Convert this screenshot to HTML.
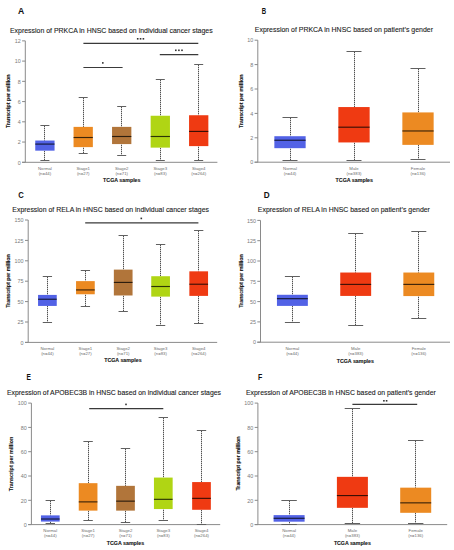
<!DOCTYPE html>
<html><head><meta charset="utf-8"><title>Expression box plots</title>
<style>
html,body{margin:0;padding:0;background:#fff;}
body{width:454px;height:550px;overflow:hidden;}
svg{display:block;}
text{font-family:"Liberation Sans",sans-serif;}
.let{font-size:100px;font-weight:bold;fill:#111;}
.tit{font-size:7.8px;fill:#1c1c1c;stroke:#1c1c1c;stroke-width:0.12px;}
.tick{font-size:5.4px;fill:#7a7a7a;text-anchor:end;}
.ylab{font-size:6px;font-weight:bold;fill:#111;stroke:#111;stroke-width:0.1px;text-anchor:middle;}
.xlab{font-size:5.9px;font-weight:bold;fill:#111;stroke:#111;stroke-width:0.1px;}
.xt{font-size:4.3px;fill:#6c6c6c;text-anchor:middle;}
.dot{fill:#333;}
.axis{stroke:#8a8a8a;stroke-width:1;fill:none;}
.whb{stroke:#c4c4c4;stroke-width:1;fill:none;}
.wh{stroke:#505050;stroke-width:1;stroke-dasharray:1 1;fill:none;}
.cap{stroke:#606060;stroke-width:1;fill:none;}
.med{stroke:#000;stroke-opacity:0.75;stroke-width:1.15;fill:none;}
.sig{stroke:#3a3a3a;stroke-width:1.2;fill:none;}
</style></head>
<body>
<svg width="454" height="550" viewBox="0 0 454 550">
<rect width="454" height="550" fill="#fff"/>
<text transform="translate(17.941 13.688) scale(0.08636 0.08824)" class="let">A</text>
<text x="10" y="32.5" class="tit" textLength="202.6" lengthAdjust="spacingAndGlyphs">Expression of PRKCA in HNSC based on individual cancer stages</text>
<path d="M25.3 40.86V162.3 M22.1 162.3H217.4" class="axis"/>
<path d="M22.1 162.3H25.3" class="axis"/>
<text x="20.7" y="164.5" class="tick">0</text>
<path d="M22.1 142.06H25.3" class="axis"/>
<text x="20.7" y="144.26" class="tick">2</text>
<path d="M22.1 121.82H25.3" class="axis"/>
<text x="20.7" y="124.02" class="tick">4</text>
<path d="M22.1 101.58H25.3" class="axis"/>
<text x="20.7" y="103.78" class="tick">6</text>
<path d="M22.1 81.34H25.3" class="axis"/>
<text x="20.7" y="83.54" class="tick">8</text>
<path d="M22.1 61.1H25.3" class="axis"/>
<text x="20.7" y="63.3" class="tick">10</text>
<path d="M22.1 40.86H25.3" class="axis"/>
<text x="20.7" y="43.06" class="tick">12</text>
<text transform="translate(10.2 101.2) rotate(-90)" class="ylab" textLength="53.5" lengthAdjust="spacingAndGlyphs">Transcript per million</text>
<text x="103.1" y="181.7" class="xlab" textLength="37.4" lengthAdjust="spacingAndGlyphs">TCGA samples</text>
<path d="M44.5 125.5V140.54 M44.5 150.66V160.5" class="whb"/>
<path d="M44.5 126V140.54 M44.5 151V160.5" class="wh"/>
<path d="M40.4 125.5H49.4 M40.4 160.5H49.4" class="cap"/>
<rect x="35.25" y="140.54" width="19.3" height="10.12" fill="#5262e6"/>
<path d="M35.25 144.08H54.55" class="med"/>
<text x="44.9" y="169.7" class="xt">Normal</text>
<text x="44.9" y="174.8" class="xt">(n=44)</text>
<path d="M83.5 97.5V126.88 M83.5 147.12V153.5" class="whb"/>
<path d="M83.5 98V126.88 M83.5 148V153.5" class="wh"/>
<path d="M78.7 97.5H87.7 M78.7 153.5H87.7" class="cap"/>
<rect x="73.55" y="126.88" width="19.3" height="20.24" fill="#ec8a22"/>
<path d="M73.55 137.51H92.85" class="med"/>
<text x="83.2" y="169.7" class="xt">Stage1</text>
<text x="83.2" y="174.8" class="xt">(n=27)</text>
<path d="M121.5 106.5V126.88 M121.5 144.08V155.5" class="whb"/>
<path d="M121.5 107V126.88 M121.5 145V155.5" class="wh"/>
<path d="M117.2 106.5H126.2 M117.2 155.5H126.2" class="cap"/>
<rect x="112.05" y="126.88" width="19.3" height="17.2" fill="#b1753a"/>
<path d="M112.05 136.49H131.35" class="med"/>
<text x="121.7" y="169.7" class="xt">Stage2</text>
<text x="121.7" y="174.8" class="xt">(n=71)</text>
<path d="M160.5 79.5V115.75 M160.5 147.63V160.5" class="whb"/>
<path d="M160.5 80V115.75 M160.5 148V160.5" class="wh"/>
<path d="M155.8 79.5H164.8 M155.8 160.5H164.8" class="cap"/>
<rect x="150.65" y="115.75" width="19.3" height="31.88" fill="#b0d514"/>
<path d="M150.65 136.49H169.95" class="med"/>
<text x="160.3" y="169.7" class="xt">Stage3</text>
<text x="160.3" y="174.8" class="xt">(n=83)</text>
<path d="M198.5 64.5V115.24 M198.5 146.11V160.5" class="whb"/>
<path d="M198.5 65V115.24 M198.5 147V160.5" class="wh"/>
<path d="M194.2 64.5H203.2 M194.2 160.5H203.2" class="cap"/>
<rect x="189.05" y="115.24" width="19.3" height="30.87" fill="#ef3a12"/>
<path d="M189.05 131.43H208.35" class="med"/>
<text x="198.7" y="169.7" class="xt">Stage4</text>
<text x="198.7" y="174.8" class="xt">(n=264)</text>
<path d="M83.4 43.4H198.3" class="sig"/>
<rect x="136.9" y="38" width="1.6" height="1.6" class="dot"/>
<rect x="139.75" y="38" width="1.6" height="1.6" class="dot"/>
<rect x="142.6" y="38" width="1.6" height="1.6" class="dot"/>
<path d="M83.4 67.5H122.6" class="sig"/>
<rect x="102" y="62.1" width="1.6" height="1.6" class="dot"/>
<path d="M159.8 54.7H198.3" class="sig"/>
<rect x="175" y="49.5" width="1.6" height="1.6" class="dot"/>
<rect x="178.1" y="49.5" width="1.6" height="1.6" class="dot"/>
<rect x="181.2" y="49.5" width="1.6" height="1.6" class="dot"/>
<text transform="translate(261.775 13.600) scale(0.06066 0.08696)" class="let">B</text>
<text x="254.8" y="32.2" class="tit" textLength="178.2" lengthAdjust="spacingAndGlyphs">Expression of PRKCA in HNSC based on patient&#8217;s gender</text>
<path d="M257.8 40.2V162.2 M254.6 162.2H450" class="axis"/>
<path d="M254.6 162.2H257.8" class="axis"/>
<text x="253.2" y="164.4" class="tick">0</text>
<path d="M254.6 137.8H257.8" class="axis"/>
<text x="253.2" y="140" class="tick">2</text>
<path d="M254.6 113.4H257.8" class="axis"/>
<text x="253.2" y="115.6" class="tick">4</text>
<path d="M254.6 89H257.8" class="axis"/>
<text x="253.2" y="91.2" class="tick">6</text>
<path d="M254.6 64.6H257.8" class="axis"/>
<text x="253.2" y="66.8" class="tick">8</text>
<path d="M254.6 40.2H257.8" class="axis"/>
<text x="253.2" y="42.4" class="tick">10</text>
<text transform="translate(243.3 101.2) rotate(-90)" class="ylab" textLength="53.5" lengthAdjust="spacingAndGlyphs">Transcript per million</text>
<text x="335.6" y="182.3" class="xlab" textLength="37.4" lengthAdjust="spacingAndGlyphs">TCGA samples</text>
<path d="M290.5 117.5V136.21 M290.5 148.17V160.5" class="whb"/>
<path d="M290.5 118V136.21 M290.5 149V160.5" class="wh"/>
<path d="M282.5 117.5H297.5 M282.5 160.5H297.5" class="cap"/>
<rect x="274.35" y="136.21" width="31.3" height="11.96" fill="#5262e6"/>
<path d="M274.35 140.24H305.65" class="med"/>
<text x="290" y="169.6" class="xt">Normal</text>
<text x="290" y="174.7" class="xt">(n=44)</text>
<path d="M354.5 51.5V107.06 M354.5 142.44V160.5" class="whb"/>
<path d="M354.5 52V107.06 M354.5 143V160.5" class="wh"/>
<path d="M346.5 51.5H361.5 M346.5 160.5H361.5" class="cap"/>
<rect x="338.35" y="107.06" width="31.3" height="35.38" fill="#ef3a12"/>
<path d="M338.35 127.19H369.65" class="med"/>
<text x="354" y="169.6" class="xt">Male</text>
<text x="354" y="174.7" class="xt">(n=383)</text>
<path d="M418.5 68.5V112.42 M418.5 144.88V159.5" class="whb"/>
<path d="M418.5 69V112.42 M418.5 145V159.5" class="wh"/>
<path d="M410.5 68.5H425.5 M410.5 159.5H425.5" class="cap"/>
<rect x="402.35" y="112.42" width="31.3" height="32.45" fill="#ec8a22"/>
<path d="M402.35 130.97H433.65" class="med"/>
<text x="418" y="169.6" class="xt">Female</text>
<text x="418" y="174.7" class="xt">(n=136)</text>
<text transform="translate(18.292 198.214) scale(0.07692 0.08592)" class="let">C</text>
<text x="12.3" y="212.3" class="tit" textLength="196.7" lengthAdjust="spacingAndGlyphs">Expression of RELA in HNSC based on individual cancer stages</text>
<path d="M28.2 220V342.4 M25 342.4H217.2" class="axis"/>
<path d="M25 342.4H28.2" class="axis"/>
<text x="23.6" y="344.6" class="tick">0</text>
<path d="M25 322H28.2" class="axis"/>
<text x="23.6" y="324.2" class="tick">25</text>
<path d="M25 301.6H28.2" class="axis"/>
<text x="23.6" y="303.8" class="tick">50</text>
<path d="M25 281.2H28.2" class="axis"/>
<text x="23.6" y="283.4" class="tick">75</text>
<path d="M25 260.8H28.2" class="axis"/>
<text x="23.6" y="263" class="tick">100</text>
<path d="M25 240.4H28.2" class="axis"/>
<text x="23.6" y="242.6" class="tick">125</text>
<path d="M25 220H28.2" class="axis"/>
<text x="23.6" y="222.2" class="tick">150</text>
<text transform="translate(10.1 281) rotate(-90)" class="ylab" textLength="53.5" lengthAdjust="spacingAndGlyphs">Transcript per million</text>
<text x="104.2" y="362.3" class="xlab" textLength="37.4" lengthAdjust="spacingAndGlyphs">TCGA samples</text>
<path d="M47.5 276.5V294.91 M47.5 305.92V322.5" class="whb"/>
<path d="M47.5 277V294.91 M47.5 306V322.5" class="wh"/>
<path d="M42.75 276.5H52.05 M42.75 322.5H52.05" class="cap"/>
<rect x="38.05" y="294.91" width="18.7" height="11.02" fill="#5262e6"/>
<path d="M38.05 299.23H56.75" class="med"/>
<text x="47.4" y="349.8" class="xt">Normal</text>
<text x="47.4" y="354.9" class="xt">(n=44)</text>
<path d="M85.5 270.5V281.12 M85.5 294.26V306.5" class="whb"/>
<path d="M85.5 271V281.12 M85.5 295V306.5" class="wh"/>
<path d="M80.75 270.5H90.05 M80.75 306.5H90.05" class="cap"/>
<rect x="76.05" y="281.12" width="18.7" height="13.14" fill="#ec8a22"/>
<path d="M76.05 289.93H94.75" class="med"/>
<text x="85.4" y="349.8" class="xt">Stage1</text>
<text x="85.4" y="354.9" class="xt">(n=27)</text>
<path d="M123.5 235.5V269.61 M123.5 295.48V311.5" class="whb"/>
<path d="M123.5 236V269.61 M123.5 296V311.5" class="wh"/>
<path d="M118.55 235.5H127.85 M118.55 311.5H127.85" class="cap"/>
<rect x="113.85" y="269.61" width="18.7" height="25.87" fill="#b1753a"/>
<path d="M113.85 282.42H132.55" class="med"/>
<text x="123.2" y="349.8" class="xt">Stage2</text>
<text x="123.2" y="354.9" class="xt">(n=71)</text>
<path d="M160.5 244.5V276.22 M160.5 296.62V325.5" class="whb"/>
<path d="M160.5 245V276.22 M160.5 297V325.5" class="wh"/>
<path d="M155.95 244.5H165.25 M155.95 325.5H165.25" class="cap"/>
<rect x="151.25" y="276.22" width="18.7" height="20.4" fill="#b0d514"/>
<path d="M151.25 286.5H169.95" class="med"/>
<text x="160.6" y="349.8" class="xt">Stage3</text>
<text x="160.6" y="354.9" class="xt">(n=83)</text>
<path d="M198.5 230.5V271.33 M198.5 295.89V323.5" class="whb"/>
<path d="M198.5 231V271.33 M198.5 296V323.5" class="wh"/>
<path d="M194.05 230.5H203.35 M194.05 323.5H203.35" class="cap"/>
<rect x="189.35" y="271.33" width="18.7" height="24.56" fill="#ef3a12"/>
<path d="M189.35 284.22H208.05" class="med"/>
<text x="198.7" y="349.8" class="xt">Stage4</text>
<text x="198.7" y="354.9" class="xt">(n=264)</text>
<path d="M85.2 222.8H198.4" class="sig"/>
<rect x="140.5" y="217.6" width="1.6" height="1.6" class="dot"/>
<text transform="translate(263.626 198.300) scale(0.08197 0.08841)" class="let">D</text>
<text x="257.8" y="212.3" class="tit" textLength="172.1" lengthAdjust="spacingAndGlyphs">Expression of RELA in HNSC based on patient&#8217;s gender</text>
<path d="M260.5 220.4V342.2 M257.3 342.2H450" class="axis"/>
<path d="M257.3 342.2H260.5" class="axis"/>
<text x="255.9" y="344.4" class="tick">0</text>
<path d="M257.3 321.9H260.5" class="axis"/>
<text x="255.9" y="324.1" class="tick">25</text>
<path d="M257.3 301.6H260.5" class="axis"/>
<text x="255.9" y="303.8" class="tick">50</text>
<path d="M257.3 281.3H260.5" class="axis"/>
<text x="255.9" y="283.5" class="tick">75</text>
<path d="M257.3 261H260.5" class="axis"/>
<text x="255.9" y="263.2" class="tick">100</text>
<path d="M257.3 240.7H260.5" class="axis"/>
<text x="255.9" y="242.9" class="tick">125</text>
<path d="M257.3 220.4H260.5" class="axis"/>
<text x="255.9" y="222.6" class="tick">150</text>
<text transform="translate(243.3 281) rotate(-90)" class="ylab" textLength="53.5" lengthAdjust="spacingAndGlyphs">Transcript per million</text>
<text x="336.8" y="362.5" class="xlab" textLength="37.1" lengthAdjust="spacingAndGlyphs">TCGA samples</text>
<path d="M292.5 276.5V294.78 M292.5 305.9V322.5" class="whb"/>
<path d="M292.5 277V294.78 M292.5 306V322.5" class="wh"/>
<path d="M284.9 276.5H299.9 M284.9 322.5H299.9" class="cap"/>
<rect x="276.95" y="294.78" width="30.9" height="11.12" fill="#5262e6"/>
<path d="M276.95 298.68H307.85" class="med"/>
<text x="292.4" y="349.6" class="xt">Normal</text>
<text x="292.4" y="354.7" class="xt">(n=44)</text>
<path d="M355.5 233.5V272.53 M355.5 295.92V325.5" class="whb"/>
<path d="M355.5 234V272.53 M355.5 296V325.5" class="wh"/>
<path d="M348.2 233.5H363.2 M348.2 325.5H363.2" class="cap"/>
<rect x="340.25" y="272.53" width="30.9" height="23.39" fill="#ef3a12"/>
<path d="M340.25 284.39H371.15" class="med"/>
<text x="355.7" y="349.6" class="xt">Male</text>
<text x="355.7" y="354.7" class="xt">(n=383)</text>
<path d="M418.5 231.5V272.53 M418.5 296.08V318.5" class="whb"/>
<path d="M418.5 232V272.53 M418.5 297V318.5" class="wh"/>
<path d="M411.3 231.5H426.3 M411.3 318.5H426.3" class="cap"/>
<rect x="403.35" y="272.53" width="30.9" height="23.55" fill="#ec8a22"/>
<path d="M403.35 284.39H434.25" class="med"/>
<text x="418.8" y="349.6" class="xt">Female</text>
<text x="418.8" y="354.7" class="xt">(n=136)</text>
<text transform="translate(26.437 380.100) scale(0.06607 0.09275)" class="let">E</text>
<text x="7" y="394.7" class="tit" textLength="214" lengthAdjust="spacingAndGlyphs">Expression of APOBEC3B in HNSC based on individual cancer stages</text>
<path d="M31.4 403.1V524.6 M28.2 524.6H220.2" class="axis"/>
<path d="M28.2 524.6H31.4" class="axis"/>
<text x="26.8" y="526.8" class="tick">0</text>
<path d="M28.2 500.3H31.4" class="axis"/>
<text x="26.8" y="502.5" class="tick">20</text>
<path d="M28.2 476H31.4" class="axis"/>
<text x="26.8" y="478.2" class="tick">40</text>
<path d="M28.2 451.7H31.4" class="axis"/>
<text x="26.8" y="453.9" class="tick">60</text>
<path d="M28.2 427.4H31.4" class="axis"/>
<text x="26.8" y="429.6" class="tick">80</text>
<path d="M28.2 403.1H31.4" class="axis"/>
<text x="26.8" y="405.3" class="tick">100</text>
<text transform="translate(13 464) rotate(-90)" class="ylab" textLength="54.5" lengthAdjust="spacingAndGlyphs">Transcript per million</text>
<text x="106.8" y="545" class="xlab" textLength="37.4" lengthAdjust="spacingAndGlyphs">TCGA samples</text>
<path d="M50.5 500.5V515.37 M50.5 521.56V523.5" class="whb"/>
<path d="M50.5 501V515.37 M50.5 522V523.5" class="wh"/>
<path d="M45.6 500.5H55 M45.6 523.5H55" class="cap"/>
<rect x="40.95" y="515.37" width="18.7" height="6.2" fill="#5262e6"/>
<path d="M40.95 519.01H59.65" class="med"/>
<text x="50.3" y="532" class="xt">Normal</text>
<text x="50.3" y="537.1" class="xt">(n=44)</text>
<path d="M88.5 441.5V483.17 M88.5 510.63V520.5" class="whb"/>
<path d="M88.5 442V483.17 M88.5 511V520.5" class="wh"/>
<path d="M83.4 441.5H92.8 M83.4 520.5H92.8" class="cap"/>
<rect x="78.75" y="483.17" width="18.7" height="27.46" fill="#ec8a22"/>
<path d="M78.75 501.88H97.45" class="med"/>
<text x="88.1" y="532" class="xt">Stage1</text>
<text x="88.1" y="537.1" class="xt">(n=27)</text>
<path d="M125.5 448.5V485.84 M125.5 510.63V522.5" class="whb"/>
<path d="M125.5 449V485.84 M125.5 511V522.5" class="wh"/>
<path d="M120.8 448.5H130.2 M120.8 522.5H130.2" class="cap"/>
<rect x="116.15" y="485.84" width="18.7" height="24.79" fill="#b1753a"/>
<path d="M116.15 501.15H134.85" class="med"/>
<text x="125.5" y="532" class="xt">Stage2</text>
<text x="125.5" y="537.1" class="xt">(n=71)</text>
<path d="M163.5 417.5V477.58 M163.5 509.05V520.5" class="whb"/>
<path d="M163.5 418V477.58 M163.5 510V520.5" class="wh"/>
<path d="M158.6 417.5H168 M158.6 520.5H168" class="cap"/>
<rect x="153.95" y="477.58" width="18.7" height="31.47" fill="#b0d514"/>
<path d="M153.95 499.33H172.65" class="med"/>
<text x="163.3" y="532" class="xt">Stage3</text>
<text x="163.3" y="537.1" class="xt">(n=83)</text>
<path d="M201.5 430.5V482.08 M201.5 509.78V524.5" class="whb"/>
<path d="M201.5 431V482.08 M201.5 510V524.5" class="wh"/>
<path d="M196.8 430.5H206.2 M196.8 524.5H206.2" class="cap"/>
<rect x="192.15" y="482.08" width="18.7" height="27.7" fill="#ef3a12"/>
<path d="M192.15 498.36H210.85" class="med"/>
<text x="201.5" y="532" class="xt">Stage4</text>
<text x="201.5" y="537.1" class="xt">(n=264)</text>
<path d="M89.2 408.6H163.3" class="sig"/>
<rect x="125.2" y="403.6" width="1.6" height="1.6" class="dot"/>
<text transform="translate(257.910 380.300) scale(0.07000 0.09275)" class="let">F</text>
<text x="246" y="394.6" class="tit" textLength="189.8" lengthAdjust="spacingAndGlyphs">Expression of APOBEC3B in HNSC based on patient&#8217;s gender</text>
<path d="M257.9 403.1V524.6 M254.7 524.6H447.2" class="axis"/>
<path d="M254.7 524.6H257.9" class="axis"/>
<text x="253.3" y="526.8" class="tick">0</text>
<path d="M254.7 500.3H257.9" class="axis"/>
<text x="253.3" y="502.5" class="tick">20</text>
<path d="M254.7 476H257.9" class="axis"/>
<text x="253.3" y="478.2" class="tick">40</text>
<path d="M254.7 451.7H257.9" class="axis"/>
<text x="253.3" y="453.9" class="tick">60</text>
<path d="M254.7 427.4H257.9" class="axis"/>
<text x="253.3" y="429.6" class="tick">80</text>
<path d="M254.7 403.1H257.9" class="axis"/>
<text x="253.3" y="405.3" class="tick">100</text>
<text transform="translate(240.3 463.6) rotate(-90)" class="ylab" textLength="54" lengthAdjust="spacingAndGlyphs">Transcript per million</text>
<text x="333.9" y="544.8" class="xlab" textLength="37" lengthAdjust="spacingAndGlyphs">TCGA samples</text>
<path d="M289.5 500.5V515.12 M289.5 521.68V524.5" class="whb"/>
<path d="M289.5 501V515.12 M289.5 522V524.5" class="wh"/>
<path d="M281.4 500.5H296.8 M281.4 524.5H296.8" class="cap"/>
<rect x="273.6" y="515.12" width="31" height="6.56" fill="#5262e6"/>
<path d="M273.6 518.28H304.6" class="med"/>
<text x="289.1" y="532" class="xt">Normal</text>
<text x="289.1" y="537.1" class="xt">(n=44)</text>
<path d="M352.5 408.5V476.85 M352.5 507.83V523.5" class="whb"/>
<path d="M352.5 409V476.85 M352.5 508V523.5" class="wh"/>
<path d="M344.7 408.5H360.1 M344.7 523.5H360.1" class="cap"/>
<rect x="336.9" y="476.85" width="31" height="30.98" fill="#ef3a12"/>
<path d="M336.9 495.56H367.9" class="med"/>
<text x="352.4" y="532" class="xt">Male</text>
<text x="352.4" y="537.1" class="xt">(n=383)</text>
<path d="M415.5 440.5V487.66 M415.5 512.81V523.5" class="whb"/>
<path d="M415.5 441V487.66 M415.5 513V523.5" class="wh"/>
<path d="M408 440.5H423.4 M408 523.5H423.4" class="cap"/>
<rect x="400.2" y="487.66" width="31" height="25.15" fill="#ec8a22"/>
<path d="M400.2 502.85H431.2" class="med"/>
<text x="415.7" y="532" class="xt">Female</text>
<text x="415.7" y="537.1" class="xt">(n=136)</text>
<path d="M352.4 404.3H417.2" class="sig"/>
<rect x="383.1" y="400" width="1.6" height="1.6" class="dot"/>
<rect x="385.8" y="400" width="1.6" height="1.6" class="dot"/>
</svg>
</body></html>
